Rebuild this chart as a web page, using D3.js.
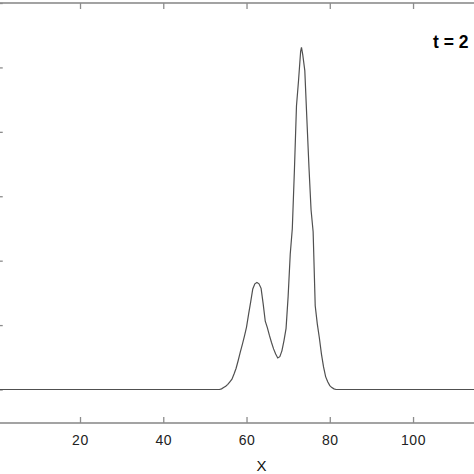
<!DOCTYPE html>
<html>
<head>
<meta charset="utf-8">
<script src="https://cdn.jsdelivr.net/npm/d3@7"></script>
<style>
  body { margin: 0; background: #fff; }
  svg { display: block; overflow: hidden; }
</style>
</head>
<body>
<div id="chart"></div>
<script>
// profile (x position, density)
const xs = [0, 53, 53.5, 54, 54.5, 55, 55.5, 56, 56.5, 57, 57.5, 58, 58.5, 59, 59.5, 60, 60.5, 61, 61.5, 62, 62.5, 63, 63.5, 64, 64.5, 65, 65.5, 66, 66.5, 67, 67.5, 68, 68.5, 69, 69.5, 70, 70.5, 71, 71.5, 72, 72.5, 73, 73.2, 73.5, 74, 74.5, 75, 75.5, 76, 76.5, 77, 77.5, 78, 78.5, 79, 79.5, 80, 80.5, 81, 81.5, 128];
const ys = [0, 0, 0, 0.01, 0.03, 0.05, 0.08, 0.12, 0.16, 0.24, 0.33, 0.45, 0.58, 0.70, 0.83, 0.97, 1.17, 1.36, 1.56, 1.64, 1.66, 1.64, 1.57, 1.33, 1.06, 0.96, 0.84, 0.73, 0.63, 0.55, 0.49, 0.51, 0.60, 0.76, 0.95, 1.45, 2.1, 2.5, 3.4, 4.4, 4.8, 5.25, 5.31, 5.2, 4.95, 4.19, 3.45, 2.79, 2.45, 1.3, 1.02, 0.8, 0.55, 0.35, 0.2, 0.12, 0.06, 0.03, 0.01, 0, 0];
const xTicks = [20, 40, 60, 80, 100];
const yTicks = [0, 1, 2, 3, 4, 5, 6];
const xLabel = "X";
const title = "t = 2";

const W = 474, H = 474;
const axisColor = "#8c8c8c";

let svg = d3.select("#chart").append("svg")
    .attr("width", W)
    .attr("height", H);

// plot box runs past the left and right edges of the picture
let x = d3.scaleLinear().domain([0, 128]).range([-3.25, 529.6]);
let y = d3.scaleLinear().domain([-0.52, 6]).range([423, 3]);

// frame
svg.append("rect")
    .attr("x", x(0)).attr("y", y(6))
    .attr("width", x(128) - x(0)).attr("height", y(-0.52) - y(6))
    .attr("fill", "none")
    .attr("stroke", axisColor)
    .attr("stroke-width", 1.6);

// bottom axis with labels
let xAxis = svg.append("g")
    .attr("transform", "translate(0," + y(-0.52) + ")")
    .call(d3.axisBottom(x).tickValues(xTicks).tickSizeInner(-6).tickSizeOuter(0).tickPadding(12));

// top axis, ticks only
let xTop = svg.append("g")
    .attr("transform", "translate(0," + y(6) + ")")
    .call(d3.axisTop(x).tickValues(xTicks).tickSizeInner(-6).tickSizeOuter(0).tickFormat(""));

// left axis, its labels are outside the picture
let yAxis = svg.append("g")
    .attr("transform", "translate(" + x(0) + ",0)")
    .call(d3.axisLeft(y).tickValues(yTicks).tickSizeInner(-6).tickSizeOuter(0).tickFormat(""));

[xAxis, xTop, yAxis].forEach(function (g) {
    g.select(".domain").remove();
    g.selectAll(".tick line").attr("stroke", axisColor).attr("stroke-width", 1.3);
    g.selectAll("text")
        .attr("fill", "#222")
        .style("font-family", "Liberation Sans, Arial, sans-serif")
        .style("font-size", "14px")
        .style("letter-spacing", "0.6px");
});

// curve
let line = d3.line()
    .x(function (d) { return x(d[0]); })
    .y(function (d) { return y(d[1]); });

svg.append("path")
    .datum(xs.map(function (v, i) { return [v, ys[i]]; }))
    .attr("d", line)
    .attr("fill", "none")
    .attr("stroke", "#505050")
    .attr("stroke-width", 1.2);

// axis label
svg.append("text")
    .attr("x", 261.5)
    .attr("y", 471)
    .attr("text-anchor", "middle")
    .style("font-family", "Liberation Sans, Arial, sans-serif")
    .style("font-size", "15px")
    .attr("fill", "#111")
    .text(xLabel);

// annotation
svg.append("text")
    .attr("x", 433)
    .attr("y", 48)
    .style("font-family", "Liberation Sans, Arial, sans-serif")
    .style("font-size", "17.5px")
    .style("font-weight", "bold")
    .attr("fill", "#000")
    .text(title);
</script>
</body>
</html>
